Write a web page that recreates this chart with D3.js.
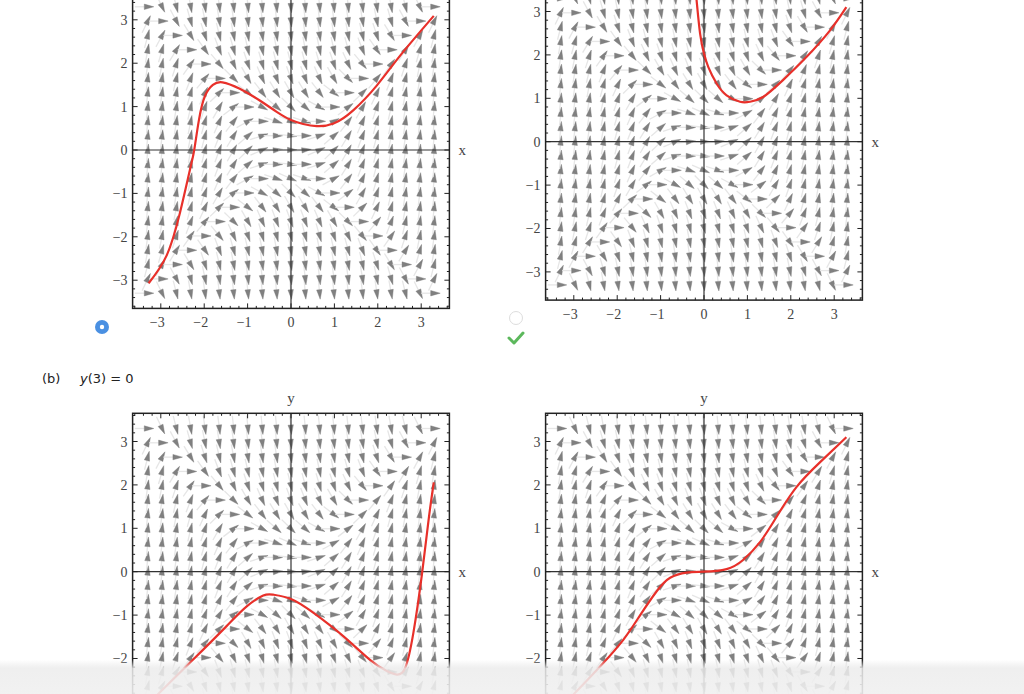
<!DOCTYPE html>
<html>
<head>
<meta charset="utf-8">
<script src="https://cdn.jsdelivr.net/npm/d3@7"></script>
<style>
  body { margin: 0; background: #fff; }
  svg { display: block; }
</style>
</head>
<body>
<div id="chart"></div>
<script>
// grid of the direction field (same for x and y)
var gridVals = [-3.3, -2.97, -2.64, -2.31, -1.98, -1.65, -1.32, -0.99, -0.66, -0.33, 0,
  0.33, 0.66, 0.99, 1.32, 1.65, 1.98, 2.31, 2.64, 2.97, 3.3];
var tickVals = [-3, -2, -1, 0, 1, 2, 3];
var tickLabels = ["\u22123", "\u22122", "\u22121", "0", "1", "2", "3"];

// solution curves
var curveA = [[-3.28, -3.07], [-2.87, -2.44], [-2.56, -1.45], [-2.33, -0.46], [-2.23, 0], [-2.12, 0.7],
  [-1.98, 1.25], [-1.8, 1.5], [-1.58, 1.56], [-1.18, 1.41], [-0.72, 1.14], [-0.33, 0.88], [0, 0.69],
  [0.28, 0.6], [0.59, 0.55], [0.98, 0.61], [1.44, 0.92], [1.98, 1.49], [2.52, 2.18], [3.29, 3.09]];
var curveB = [[-0.22, 3.7], [-0.17, 3.25], [-0.09, 2.49], [0, 2.03], [0.1, 1.72], [0.29, 1.34], [0.52, 1.07],
  [0.83, 0.92], [1.06, 0.92], [1.36, 1.03], [1.82, 1.42], [2.36, 1.95], [2.9, 2.56], [3.28, 3.1]];
var curveC = [[-3.3, -3.08], [-3.03, -2.79], [-2.26, -2.03], [-1.49, -1.26], [-1.02, -0.8], [-0.64, -0.55],
  [-0.41, -0.53], [0, -0.63], [0.52, -0.95], [1.21, -1.49], [1.82, -2.03], [2.21, -2.29], [2.44, -2.37],
  [2.63, -2.22], [2.82, -1.41], [3.02, -0.04], [3.17, 1.19], [3.29, 2.06]];
var curveD = [[-3.3, -3.1], [-2.97, -2.79], [-2.39, -2.18], [-1.86, -1.57], [-1.47, -1.0], [-1.09, -0.45],
  [-0.78, -0.14], [-0.4, -0.02], [0, 0], [0.52, 0.06], [0.9, 0.27], [1.29, 0.68], [1.67, 1.26], [2.13, 1.95],
  [2.67, 2.52], [3.28, 3.1]];

// dy/dx = x^2 - y^2
function slope(x, y) { return x * x - y * y; }

var W = 1024, H = 694;
var half = 3.65, pxHalf = 158.4;

var svg = d3.select("#chart").append("svg")
  .attr("width", W)
  .attr("height", H);

var defs = svg.append("defs");

// panel centres (pixel position of the origin)
var panels = [
  { x0: 291, y0: 150, curve: curveA },
  { x0: 704, y0: 141.7, curve: curveB },
  { x0: 291, y0: 571.7, curve: curveC, yLabel: true },
  { x0: 704, y0: 571.7, curve: curveD, yLabel: true }
];

panels.forEach(function (p, i) {
  var x = d3.scaleLinear().domain([-half, half]).range([p.x0 - pxHalf, p.x0 + pxHalf]);
  var y = d3.scaleLinear().domain([-half, half]).range([p.y0 + pxHalf, p.y0 - pxHalf]);
  var left = x(-half), right = x(half), top = y(half), bottom = y(-half);

  var g = svg.append("g");

  defs.append("clipPath").attr("id", "clip" + i)
    .append("rect")
    .attr("x", left).attr("y", top)
    .attr("width", right - left).attr("height", bottom - top);

  // direction field
  var pts = [];
  gridVals.forEach(function (gx) {
    gridVals.forEach(function (gy) { pts.push([gx, gy]); });
  });

  var arrows = g.append("g");
  pts.forEach(function (d) {
    var s = slope(d[0], d[1]);
    var dx = 1, dy = -s;
    var len = Math.sqrt(dx * dx + dy * dy);
    dx /= len; dy /= len;
    var cx = x(d[0]), cy = y(d[1]);
    var tipX = cx + 6 * dx, tipY = cy + 6 * dy;
    var baseX = tipX - 9.5 * dx, baseY = tipY - 9.5 * dy;
    // faint shaft
    arrows.append("line")
      .attr("x1", cx - 13 * dx).attr("y1", cy - 13 * dy)
      .attr("x2", baseX).attr("y2", baseY)
      .attr("stroke", "#e6e6e6")
      .attr("stroke-width", 1.3);
    arrows.append("path")
      .attr("d", "M" + tipX + "," + tipY +
        "L" + (baseX - 2.7 * dy) + "," + (baseY + 2.7 * dx) +
        "L" + (baseX + 2.7 * dy) + "," + (baseY - 2.7 * dx) + "Z")
      .attr("fill", "#808080")
      .attr("stroke", "#747474")
      .attr("stroke-width", 0.4);
  });

  // axes through origin
  g.append("line")
    .attr("x1", left).attr("x2", right)
    .attr("y1", y(0)).attr("y2", y(0))
    .attr("stroke", "#333").attr("stroke-width", 1.2);
  g.append("line")
    .attr("x1", x(0)).attr("x2", x(0))
    .attr("y1", top).attr("y2", bottom)
    .attr("stroke", "#333").attr("stroke-width", 1.2);

  // solution curve
  g.append("path")
    .datum(p.curve)
    .attr("clip-path", "url(#clip" + i + ")")
    .attr("fill", "none")
    .attr("stroke", "#e8302a")
    .attr("stroke-width", 2.2)
    .attr("d", d3.line()
      .x(function (d) { return x(d[0]); })
      .y(function (d) { return y(d[1]); })
      .curve(d3.curveNatural));

  // frame with inward ticks on all sides
  var frame = g.append("g");
  frame.append("rect")
    .attr("x", left).attr("y", top)
    .attr("width", right - left).attr("height", bottom - top)
    .attr("fill", "none").attr("stroke", "#222").attr("stroke-width", 1.5);

  var minor = d3.range(-36, 37, 2).map(function (v) { return v / 10; });
  minor.forEach(function (v) {
    var major = Math.abs(v - Math.round(v)) < 1e-9;
    var tl = major ? 5 : 2.5;
    frame.append("line").attr("x1", x(v)).attr("x2", x(v)).attr("y1", bottom).attr("y2", bottom - tl)
      .attr("stroke", "#222").attr("stroke-width", 1);
    frame.append("line").attr("x1", x(v)).attr("x2", x(v)).attr("y1", top).attr("y2", top + tl)
      .attr("stroke", "#222").attr("stroke-width", 1);
    frame.append("line").attr("y1", y(v)).attr("y2", y(v)).attr("x1", left).attr("x2", left + tl)
      .attr("stroke", "#222").attr("stroke-width", 1);
    frame.append("line").attr("y1", y(v)).attr("y2", y(v)).attr("x1", right).attr("x2", right - tl)
      .attr("stroke", "#222").attr("stroke-width", 1);
  });

  // tick labels
  tickVals.forEach(function (v, k) {
    g.append("text")
      .attr("x", x(v) - (v < 0 ? 3.5 : 0))
      .attr("y", bottom + 19)
      .attr("text-anchor", "middle")
      .style("font-family", "Liberation Serif, serif")
      .style("font-size", "14px")
      .style("fill", "#444")
      .text(tickLabels[k]);
    g.append("text")
      .attr("x", left - 5)
      .attr("y", y(v) + 5)
      .attr("text-anchor", "end")
      .style("font-family", "Liberation Serif, serif")
      .style("font-size", "14px")
      .style("fill", "#444")
      .text(tickLabels[k]);
  });

  g.append("text")
    .attr("x", right + 9)
    .attr("y", y(0) + 5)
    .style("font-family", "Liberation Serif, serif")
    .style("font-size", "15px")
    .style("fill", "#444")
    .text("x");
  if (p.yLabel) {
    g.append("text")
      .attr("x", x(0))
      .attr("y", top - 10)
      .attr("text-anchor", "middle")
      .style("font-family", "Liberation Serif, serif")
      .style("font-size", "15px")
      .style("fill", "#444")
      .text("y");
  }
});

// answer choice widgets
svg.append("circle").attr("cx", 102).attr("cy", 327).attr("r", 7)
  .attr("fill", "#4a90e2");
svg.append("circle").attr("cx", 102).attr("cy", 327).attr("r", 2.2)
  .attr("fill", "#fff");
svg.append("circle").attr("cx", 516).attr("cy", 318).attr("r", 6.5)
  .attr("fill", "#fff").attr("stroke", "#ddd").attr("stroke-width", 1);
svg.append("path")
  .attr("d", "M509,338 L514,343 L523,333")
  .attr("fill", "none").attr("stroke", "#5cb85c")
  .attr("stroke-width", 3).attr("stroke-linecap", "round").attr("stroke-linejoin", "round");

// part label
svg.append("text")
  .attr("x", 42).attr("y", 383)
  .style("font-family", "DejaVu Sans, sans-serif")
  .style("font-size", "13px")
  .style("fill", "#222")
  .text("(b)");
var lab = svg.append("text")
  .attr("x", 80).attr("y", 383)
  .style("font-family", "DejaVu Sans, sans-serif")
  .style("font-size", "13px")
  .style("fill", "#222");
lab.append("tspan").style("font-style", "italic").text("y");
lab.append("tspan").text("(3) = 0");

// grey band along the bottom of the window
var grad = defs.append("linearGradient").attr("id", "band")
  .attr("x1", 0).attr("x2", 0).attr("y1", 0).attr("y2", 1);
grad.append("stop").attr("offset", "0").attr("stop-color", "#e6e6e6").attr("stop-opacity", 0);
grad.append("stop").attr("offset", "0.25").attr("stop-color", "#ececec").attr("stop-opacity", 0.85);
grad.append("stop").attr("offset", "1").attr("stop-color", "#f0f0f0").attr("stop-opacity", 0.9);
svg.append("rect")
  .attr("x", 0).attr("y", 660)
  .attr("width", W).attr("height", H - 660)
  .attr("fill", "url(#band)");
</script>
</body>
</html>
